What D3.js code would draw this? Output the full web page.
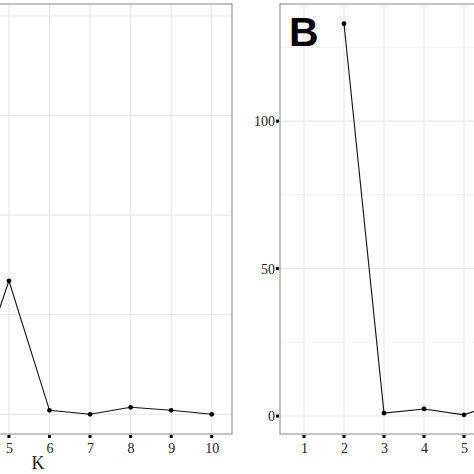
<!DOCTYPE html><html><head><script src="https://cdn.jsdelivr.net/npm/d3@7"></script>
<style>body{margin:0;background:#fff}</style></head><body><svg id="c" width="474" height="474"></svg>
<script>
const kA=[4,5,6,7,8,9,10];
const valA=[7,67,2,0,3.5,2,0];
const kB=[2,3,4,5,6];
const valB=[133,1,2.4,0.4,5];
const ticksB=[0,50,100];
const svg=d3.select("#c");
function panel(id,x0,x1,xDom,yDom,ks,vs,kt,yt,minor,showY){
  const x=d3.scaleLinear().domain(xDom).range([x0,x1]);
  const y=d3.scaleLinear().domain(yDom).range([434,4]);
  const g=svg.append("g");
  g.append("clipPath").attr("id",id).append("rect").attr("x",Math.max(x0,0)).attr("y",4).attr("width",x1-Math.max(x0,0)).attr("height",430);
  const c=g.append("g").attr("clip-path",`url(#${id})`);
  c.selectAll(".mn").data(minor).join("line").attr("x1",x0).attr("x2",x1).attr("y1",d=>y(d)).attr("y2",d=>y(d)).attr("stroke","#f2f2f2");
  c.selectAll(".mj").data(yt).join("line").attr("x1",x0).attr("x2",x1).attr("y1",d=>y(d)).attr("y2",d=>y(d)).attr("stroke","#e4e4e4");
  c.selectAll(".vx").data(kt).join("line").attr("y1",4).attr("y2",434).attr("x1",d=>x(d)).attr("x2",d=>x(d)).attr("stroke","#e4e4e4");
  c.append("path").datum(ks.map((k,i)=>[k,vs[i]])).attr("fill","none").attr("stroke","#111").attr("stroke-width",1.1)
    .attr("d",d3.line().x(d=>x(d[0])).y(d=>y(d[1])));
  c.selectAll("circle").data(ks.map((k,i)=>[k,vs[i]])).join("circle").attr("cx",d=>x(d[0])).attr("cy",d=>y(d[1])).attr("r",2.4).attr("fill","#000");
  g.append("rect").attr("x",x0).attr("y",4).attr("width",x1-x0).attr("height",430).attr("fill","none").attr("stroke","#999").attr("stroke-width",1.2);
  const ax=g.append("g").attr("transform","translate(0,434)").call(d3.axisBottom(x).tickValues(kt).tickSize(0).tickPadding(9).tickFormat(d3.format("d")));
  ax.select(".domain").remove();
  ax.selectAll("text").attr("font-family","Liberation Serif").attr("font-size",14).style("fill","#222");
  g.selectAll(".tx").data(kt).join("rect").attr("x",d=>x(d)-1.5).attr("y",435).attr("width",3).attr("height",3).attr("fill","#000");
  if(showY){
    const ay=g.append("g").attr("transform",`translate(${x0},0)`).call(d3.axisLeft(y).tickValues(yt).tickSize(0).tickPadding(5));
    ay.select(".domain").remove();
    ay.selectAll("text").attr("font-family","Liberation Serif").attr("font-size",14).style("fill","#222");
    g.selectAll(".ty").data(yt).join("rect").attr("x",x0-4).attr("y",d=>y(d)-1.5).attr("width",3).attr("height",3).attr("fill","#000");
  }
  return {x,y};
}
panel("cA",-60,232,[3.3,10.5],[-9.9,206],kA,valA,[5,6,7,8,9,10],[0,50,100,150,200],[],false);
panel("cB",280,540,[0.4,6.9],[-6.1,139.7],kB,valB,[1,2,3,4,5],ticksB,[25,75,125],true);
svg.append("text").attr("x",38).attr("y",469).attr("text-anchor","middle").attr("font-family","Liberation Serif").attr("font-size",18).attr("fill","#222").text("K");
svg.append("text").attr("x",289).attr("y",46).attr("font-family","Liberation Sans").attr("font-weight","bold").attr("font-size",41).text("B");
</script></body></html>
